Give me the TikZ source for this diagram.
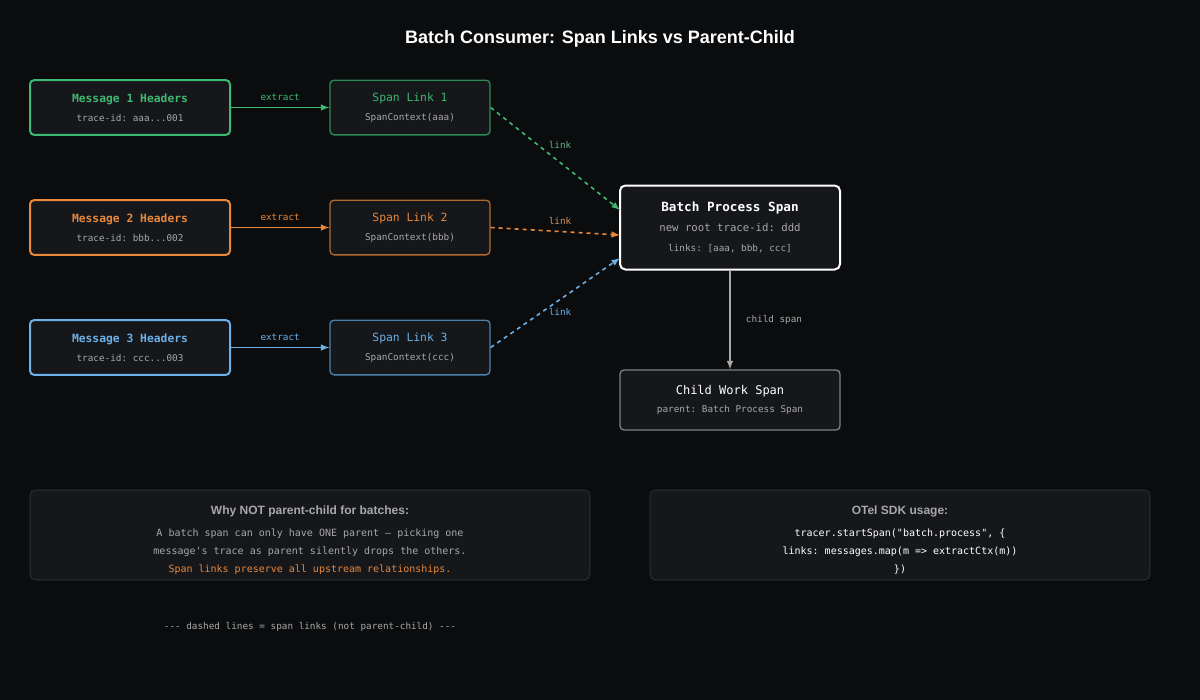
\documentclass[tikz,border=0pt]{standalone}
\usepackage{fontspec}
\setmainfont{Liberation Sans}
\setmonofont{DejaVu Sans Mono}
\usetikzlibrary{positioning}
\definecolor{bgc}{HTML}{0B0C0E}
\definecolor{boxc}{HTML}{15171B}
\definecolor{grn}{HTML}{3FB871}
\definecolor{grnd}{HTML}{2E8A55}
\definecolor{org}{HTML}{E8883A}
\definecolor{orgd}{HTML}{B06A30}
\definecolor{blu}{HTML}{6CB0E8}
\definecolor{blud}{HTML}{4F80AA}
\definecolor{sub}{HTML}{A8A8A8}
\definecolor{edg}{HTML}{3A3C40}
\tikzset{
	msg/.style={draw, rectangle, rounded corners=3pt, line width=1.5pt, fill=boxc, minimum width=150pt, minimum height=41pt, align=center, font=\ttfamily\fontsize{8.5}{14}\selectfont},
	lnk/.style={draw, rectangle, rounded corners=3pt, line width=1pt, fill=boxc, minimum width=120pt, minimum height=41pt, align=center, font=\ttfamily\fontsize{8.5}{14}\selectfont},
	% small text under a box heading
	subl/.style={text=sub, font=\ttfamily\fontsize{7}{14}\selectfont},
	lbl/.style={font=\ttfamily\fontsize{7}{8}\selectfont},
	note/.style={draw=edg, rectangle, rounded corners=4pt, fill=boxc, align=center},
}
\begin{document}
\begin{tikzpicture}[x=0.75pt, y=-0.75pt]
	\fill[bgc] (0,0) rectangle (1200,700);
	\useasboundingbox (0,0) rectangle (1200,700);
	
	\node (title) at (600,39) [text=white, font=\bfseries\fontsize{13.5}{16}\selectfont] {Batch Consumer: Span Links vs Parent-Child};
	
	\node (m1) at (130,107.5) [msg, draw=grn, text=grn] {\textbf{Message 1 Headers}\\{\color{sub}\fontsize{7}{14}\selectfont trace-id: aaa...001}};
	\node (l1) at (410,107.5) [lnk, draw=grnd, text=grn] {Span Link 1\\{\color{sub}\fontsize{7}{14}\selectfont SpanContext(aaa)}};
	
	\node (m2) at (130,227.5) [msg, draw=org, text=org] {\textbf{Message 2 Headers}\\{\color{sub}\fontsize{7}{14}\selectfont trace-id: bbb...002}};
	\node (l2) at (410,227.5) [lnk, draw=orgd, text=org] {Span Link 2\\{\color{sub}\fontsize{7}{14}\selectfont SpanContext(bbb)}};
	
	\node (m3) at (130,347.5) [msg, draw=blu, text=blu] {\textbf{Message 3 Headers}\\{\color{sub}\fontsize{7}{14}\selectfont trace-id: ccc...003}};
	\node (l3) at (410,347.5) [lnk, draw=blud, text=blu] {Span Link 3\\{\color{sub}\fontsize{7}{14}\selectfont SpanContext(ccc)}};
	
	\node (batch) at (730,227.5) [draw=white, rectangle, rounded corners=4pt, line width=1.5pt, fill=boxc, minimum width=165pt, minimum height=63pt, align=center, text=white, font=\ttfamily\fontsize{9.5}{15}\selectfont] {\textbf{Batch Process Span}\\{\color{sub}\fontsize{8}{15}\selectfont new root trace-id: ddd}\\{\color{sub}\fontsize{7}{15}\selectfont links: [aaa, bbb, ccc]}};
	\node (child) at (730,400) [draw=gray, rectangle, rounded corners=3pt, line width=1pt, fill=boxc, minimum width=165pt, minimum height=45pt, align=center, text=white, font=\ttfamily\fontsize{9}{14}\selectfont] {Child Work Span\\{\color{sub}\fontsize{7}{14}\selectfont parent: Batch Process Span}};
	
	\coordinate (b1) at (620,210);
	\coordinate (b2) at (620,235);
	\coordinate (b3) at (620,258);
	
	\begin{scope}[line width=1.2pt, ->, >=latex]
		\draw[grn] (m1) -- node[lbl, above=1pt] {extract} (l1);
		\draw[org] (m2) -- node[lbl, above=1pt] {extract} (l2);
		\draw[blu] (m3) -- node[lbl, above=1pt] {extract} (l3);
		
		\draw[grn, dashed] (l1.east) -- (b1);
		\draw[org, dashed] (l2.east) -- (b2);
		\draw[blu, dashed] (l3.east) -- (b3);
		
		\draw[sub] (batch) -- node[lbl, right=8pt, text=sub] {child span} (child);
	\end{scope}
	
	\node (k1) at (560,145) [lbl, text=grn!70!sub] {link};
	\node (k2) at (560,221) [lbl, text=org!70!sub] {link};
	\node (k3) at (560,312) [lbl, text=blu] {link};
	
	\node (why) at (310,535) [note, minimum width=420pt, minimum height=67.5pt] {};
	\node (whyt) at (310,511) [text=sub, font=\bfseries\fontsize{9}{11}\selectfont] {Why NOT parent-child for batches:};
	\node (whyb) at (310,552) [align=center, text=sub, font=\ttfamily\fontsize{7.5}{13.5}\selectfont] {A batch span can only have ONE parent — picking one\\message's trace as parent silently drops the others.\\{\color{org}Span links preserve all upstream relationships.}};
	
	\node (sdk) at (900,535) [note, minimum width=375pt, minimum height=67.5pt] {};
	\node (sdkt) at (900,511) [text=sub, font=\bfseries\fontsize{9}{11}\selectfont] {OTel SDK usage:};
	\node (sdkb) at (900,552) [align=center, text=white, font=\ttfamily\fontsize{7.5}{13.5}\selectfont] {tracer.startSpan("batch.process", \{\\links: messages.map(m => extractCtx(m))\\\})};
	
	\node (legend) at (310,627) [text=sub, font=\ttfamily\fontsize{7}{9}\selectfont] {--{}- dashed lines = span links (not parent-child) --{}-};
\end{tikzpicture}
\end{document}
